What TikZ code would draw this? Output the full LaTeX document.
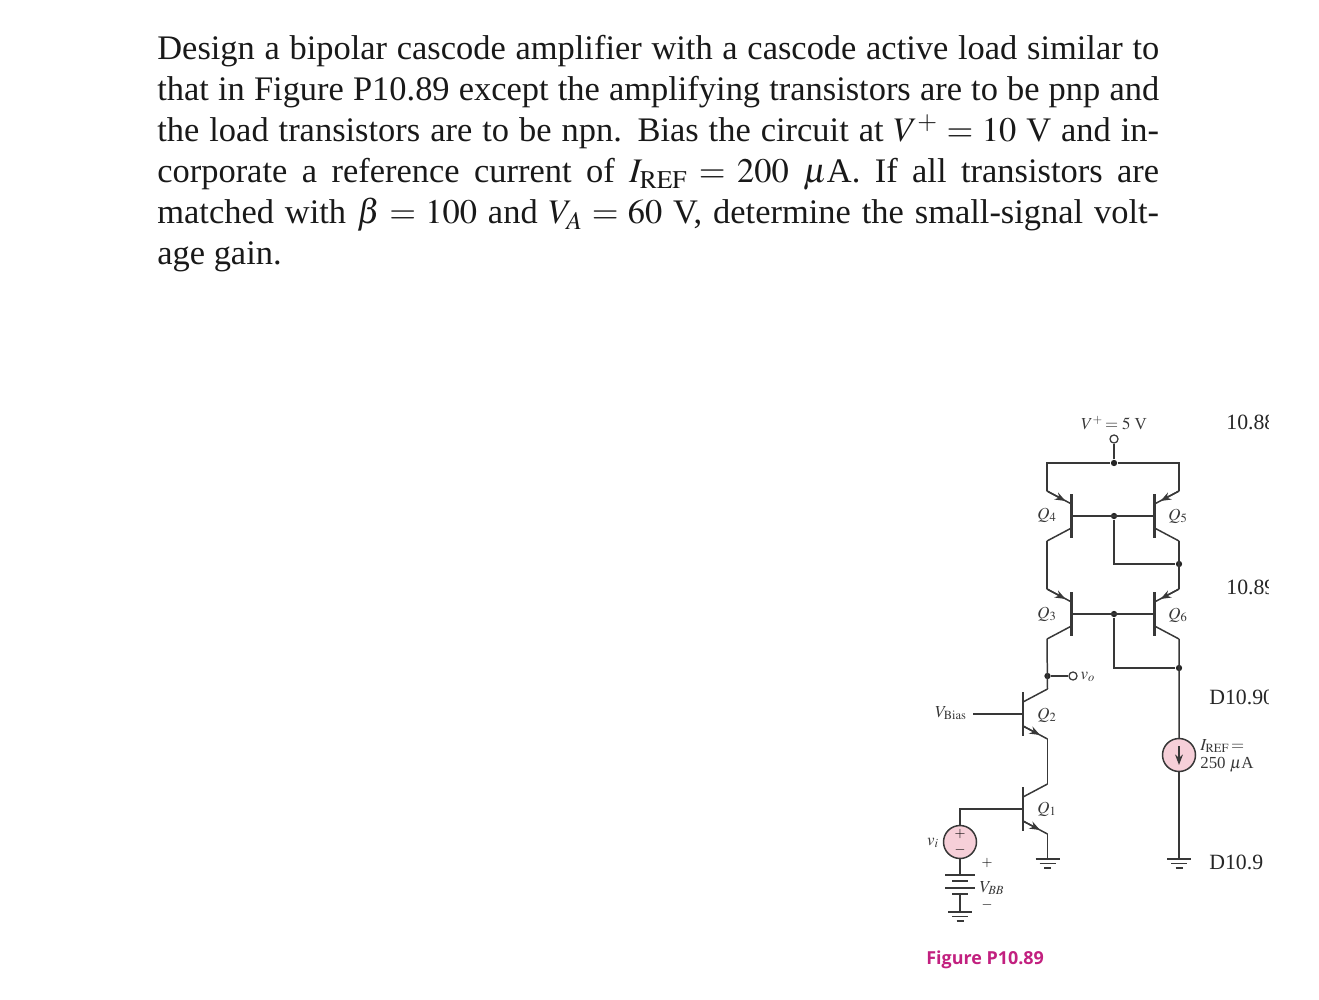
\documentclass[tikz,border=0pt]{standalone}
\usepackage{mathptmx}
\usepackage{fontspec}
\setmainfont{Liberation Serif}
\setsansfont{Open Sans}
\usetikzlibrary{positioning,arrows.meta}
\definecolor{wirecol}{HTML}{383838}
\definecolor{srcpink}{HTML}{F6CFD8}
\definecolor{figpink}{HTML}{C2207F}
\tikzset{
    wire/.style={draw=wirecol, line width=0.85pt},
    tip/.style={-{Stealth[length=6pt,width=4.5pt]}},
    jdot/.style={circle, fill=black!85, inner sep=0pt, minimum size=3.6pt},
    term/.style={circle, draw=wirecol, fill=white, line width=0.7pt, inner sep=0pt, minimum size=4.6pt},
    vsrc/.style={circle, draw=wirecol, fill=srcpink, line width=0.85pt, inner sep=0pt, minimum size=0.66cm},
    lab/.style={text=wirecol, inner sep=0pt, font=\fontsize{9.6}{11}\selectfont},
    smallsign/.style={text=black, inner sep=0pt, font=\fontsize{8}{9}\selectfont},
    sidelab/.style={anchor=west, text=black!85, inner sep=0pt, font=\fontsize{12.4}{14}\selectfont},
    probline/.style={anchor=base west, inner sep=0pt, text=black!90, font=\fontsize{19.6}{23}\selectfont}
}
\tikzset{
    pnpQ/.pic={
		\draw[wirecol, line width=1.3pt] (0,-22) -- (0,22);
		\draw[wire] (0,12) -- (24.5,25);
		\draw[wire] (24.5,-25) -- (0,-12);
		\draw[wire, tip] (24.5,-25) -- (6,-15);
		\coordinate (-b) at (0,0);
		\coordinate (-e) at (24.5,-25);
		\coordinate (-c) at (24.5,25);
	}
}
\tikzset{
    npnQ/.pic={
		\draw[wirecol, line width=1.3pt] (0,-22) -- (0,22);
		\draw[wire] (0,-12) -- (24.5,-25);
		\draw[wire] (0,12) -- (24.5,25);
		\draw[wire, tip] (0,12) -- (17,21);
		\coordinate (-b) at (0,0);
		\coordinate (-c) at (24.5,-25);
		\coordinate (-e) at (24.5,25);
	}
}
\tikzset{
    gnd/.pic={
		\draw[wire] (-12,0) -- (12,0);
		\draw[wire] (-8,4.5) -- (8,4.5);
		\draw[wire] (-3.5,9) -- (3.5,9);
		\coordinate (-t) at (0,0);
	}
}
\newcommand{\fullline}[1]{\hbox to 20.04cm{#1}}

\begin{document}
\begin{tikzpicture}[x=0.02cm,y=-0.02cm]
          \useasboundingbox (0,0) rectangle (1319,1000);
          \node[probline] (line1) at (157,60) {\fullline{Design a bipolar cascode amplifier with a cascode active load similar to}};
          \node[probline] (line2) at (157,101) {\fullline{that in Figure P10.89 except the amplifying transistors are to be pnp and}};
          \node[probline] (line3) at (157,142) {\fullline{the load transistors are to be npn. Bias the circuit at $V^+ = 10$ V and in-}};
          \node[probline] (line4) at (157,183) {\fullline{corporate a reference current of $I_{\mathrm{REF}} = 200\ \mu$A. If all transistors are}};
          \node[probline] (line5) at (157,224) {\fullline{matched with $\beta = 100$ and $V_A = 60$ V, determine the small-signal volt-}};
          \node[probline] (line6) at (157,265) {age gain.};
          % transistors
          \pic[xscale=-1] (q4) at (1071.5,516) {pnpQ};
          \pic (q5) at (1154.5,516) {pnpQ};
          \pic[xscale=-1] (q3) at (1071.5,614) {pnpQ};
          \pic (q6) at (1154.5,614) {pnpQ};
          \pic (q2) at (1023,714) {npnQ};
          \pic (q1) at (1023,809) {npnQ};
          \pic (gndA) at (960,912) {gnd};
          \pic (gndB) at (1047.5,859) {gnd};
          \pic (gndC) at (1179,859) {gnd};
          % junctions
          \node[term] (vplus) at (1114,439) {};
          \node[jdot] (jtop) at (1114,463) {};
          \node[jdot] (jbase4) at (1114,516) {};
          \node[jdot] (jright5) at (1179,564) {};
          \node[jdot] (jbase3) at (1114,614) {};
          \node[jdot] (jright6) at (1179,668) {};
          \node[jdot] (jout) at (1047.5,676) {};
          \node[term] (vout) at (1073,676) {};
          \node[vsrc] (iref) at (1179,755) {};
          \node[vsrc] (vi) at (960,842) {};
          \coordinate (bias) at (973,714);
          \coordinate (battT) at (960,875);
          \coordinate (battB) at (960,894);
          % wires
          \draw[wire] (q4-e) |- (jtop) -| (q5-e);
          \draw[wire] (jtop) -- (vplus);
          \draw[wire] (q4-b) -- (q5-b);
          \draw[wire] (q3-b) -- (q6-b);
          \draw[wire] (jbase4) |- (jright5);
          \draw[wire] (jbase3) |- (jright6);
          \draw[wire] (q4-c) -- (q3-e);
          \draw[wire] (q5-c) -- (q6-e);
          \draw[wire] (q3-c) -- (q2-c);
          \draw[wire] (jout) -- (vout);
          \draw[wire] (q6-c) -- (iref);
          \draw[wire] (iref) -- (gndC-t);
          \draw[wire] (bias) -- (q2-b);
          \draw[wire] (q2-e) -- (q1-c);
          \draw[wire] (q1-e) -- (gndB-t);
          \draw[wire] (q1-b) -| (vi);
          \draw[wire] (vi) -- (battT);
          \draw[wire] (battB) -- (gndA-t);
          % battery plates
          \draw[wire] (945,875) -- (975,875);
          \draw[wire] (952,881) -- (968,881);
          \draw[wire] (945,888) -- (975,888);
          \draw[wire] (952,894) -- (968,894);
          % current arrow
          \draw[wire, tip] (1179,746) -- (1179,765);
          % labels
          \node[lab] (vplusLab) at (1114,423) {$V^+\!=5$ V};
          \node[lab] (q4Lab) at (1047,515) {$Q_4$};
          \node[lab] (q5Lab) at (1178,516) {$Q_5$};
          \node[lab] (q3Lab) at (1047,614) {$Q_3$};
          \node[lab] (q6Lab) at (1178,615) {$Q_6$};
          \node[lab] (q2Lab) at (1047,715) {$Q_2$};
          \node[lab] (q1Lab) at (1047,809) {$Q_1$};
          \node[lab] (voLab) at (1088,677) {$v_o$};
          \node[lab] (biasLab) at (951,713) {$V_{\mathrm{Bias}}$};
          \node[lab] (viLab) at (933,843) {$v_i$};
          \node[smallsign] (viP) at (960,834) {$+$};
          \node[smallsign] (viM) at (960,850) {$-$};
          \node[smallsign] (bbP) at (987,863) {$+$};
          \node[lab] (bbLab) at (992,888) {$V_{BB}$};
          \node[smallsign] (bbM) at (987,905) {$-$};
          \node[lab, anchor=west] (irefLab) at (1200,746) {$I_{\mathrm{REF}}\!=$};
          \node[lab, anchor=west] (irefVal) at (1200,765) {250 $\mu$A};
          \node[anchor=west, inner sep=0pt, text=figpink, font=\sffamily\bfseries\fontsize{10.2}{12}\selectfont] (figLab) at (926,960) {Figure P10.89};
          % clipped numbers at the page edge
          \begin{scope}
          \clip (1200,400) rectangle (1268,880);
          \node[sidelab] (s88) at (1226,422) {10.88};
          \node[sidelab] (s89) at (1226,587) {10.89};
          \node[sidelab] (s90) at (1209,697) {D10.90};
          \node[sidelab] (s91) at (1209,862) {D10.9};
          \end{scope}
        \end{tikzpicture}
\end{document}
